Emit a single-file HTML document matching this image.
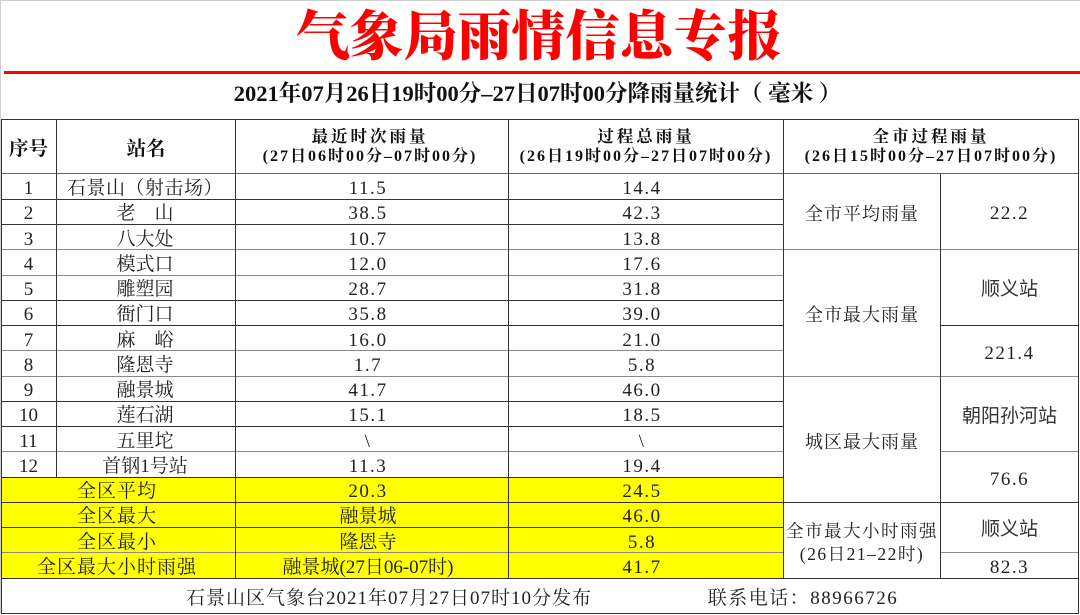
<!DOCTYPE html>
<html>
<head>
<meta charset="utf-8">
<style>
html,body{margin:0;padding:0;}
body{width:1080px;height:615px;position:relative;background:#fff;overflow:hidden;
font-family:"Liberation Serif","Noto Serif CJK SC",serif;color:#222;}
.c{position:absolute;display:flex;align-items:center;justify-content:center;white-space:nowrap;font-size:19px;line-height:1;transform:translateY(2px);}
.n{letter-spacing:1.5px;}
.h{position:absolute;height:1px;background:#333;}
.hg{position:absolute;height:1px;background:#8a8a8a;}
.v{position:absolute;width:1px;background:#333;}
.y{position:absolute;background:#ffff00;}
.hd{position:absolute;display:flex;flex-direction:column;align-items:center;justify-content:center;white-space:nowrap;font-weight:700;color:#111;}
.hd .a{font-size:16.5px;letter-spacing:3px;line-height:20px;}
.hd .b{font-size:16px;letter-spacing:2px;line-height:20px;}
.sans{font-family:"Liberation Sans","Noto Sans CJK SC",sans-serif;color:#333;}
</style>
</head>
<body>
<!-- light outer frame -->
<div style="position:absolute;left:0;top:0;width:1080px;height:1px;background:#d0d0d0"></div>
<div style="position:absolute;left:0;top:0;width:1px;height:615px;background:#d0d0d0"></div>

<!-- Title -->
<div style="position:absolute;left:0;top:6px;width:1077px;text-align:center;font-family:'Noto Serif CJK SC',serif;font-weight:900;font-size:54px;line-height:54px;color:#ff0000;white-space:nowrap;">气象局雨情信息专报</div>
<div style="position:absolute;left:4px;top:71px;width:1076px;height:3px;background:#ff0000"></div>

<!-- Subtitle -->
<div style="position:absolute;left:0;top:83px;width:1075px;text-align:center;font-weight:700;font-size:22.5px;line-height:22.5px;color:#111;white-space:nowrap;">2021年07月26日19时00分–27日07时00分降雨量统计（ 毫米 ）</div>

<!-- Yellow fills -->
<div class="y" style="left:1px;top:477px;width:782px;height:101px"></div>

<!-- Horizontal lines -->
<div class="h" style="left:1px;top:119px;width:1078px"></div>
<div class="hg" style="left:1px;top:173px;width:1078px;background:#666"></div>
<div class="h" style="left:1px;top:199px;width:782px"></div>
<div class="h" style="left:1px;top:224px;width:782px"></div>
<div class="hg" style="left:1px;top:249px;width:782px"></div>
<div class="hg" style="left:1px;top:275px;width:782px"></div>
<div class="h" style="left:1px;top:300px;width:782px"></div>
<div class="h" style="left:1px;top:325px;width:782px"></div>
<div class="hg" style="left:1px;top:350px;width:782px"></div>
<div class="hg" style="left:1px;top:376px;width:782px"></div>
<div class="h" style="left:1px;top:401px;width:782px"></div>
<div class="h" style="left:1px;top:426px;width:782px"></div>
<div class="hg" style="left:1px;top:451px;width:782px"></div>
<div class="h" style="left:1px;top:477px;width:782px"></div>
<div class="h" style="left:1px;top:502px;width:782px"></div>
<div class="h" style="left:1px;top:527px;width:782px"></div>
<div class="hg" style="left:1px;top:552px;width:782px"></div>
<div class="h" style="left:1px;top:578px;width:1078px"></div>
<div class="h" style="left:1px;top:613px;width:1078px"></div>
<!-- right section lines -->
<div class="hg" style="left:783px;top:249px;width:296px"></div>
<div class="hg" style="left:783px;top:376px;width:296px"></div>
<div class="h" style="left:783px;top:502px;width:296px"></div>
<div class="h" style="left:940px;top:325px;width:139px"></div>
<div class="hg" style="left:940px;top:451px;width:139px"></div>
<div class="hg" style="left:940px;top:552px;width:139px"></div>

<!-- Vertical lines -->
<div class="v" style="left:1px;top:119px;height:495px"></div>
<div class="v" style="left:56px;top:119px;height:358px"></div>
<div class="v" style="left:235px;top:119px;height:459px"></div>
<div class="v" style="left:508px;top:119px;height:459px"></div>
<div class="v" style="left:783px;top:119px;height:459px"></div>
<div class="v" style="left:940px;top:174px;height:404px"></div>
<div class="v" style="left:1078px;top:119px;height:495px"></div>

<!-- Header -->
<div class="hd" style="left:1px;top:120px;width:55px;height:54px;font-size:19.5px;">序号</div>
<div class="hd" style="left:57px;top:120px;width:178px;height:54px;font-size:19.5px;">站名</div>
<div class="hd" style="left:236px;top:120px;width:268px;height:54px;"><div class="a">最近时次雨量</div><div class="b">(27日06时00分–07时00分)</div></div>
<div class="hd" style="left:509px;top:120px;width:274px;height:54px;"><div class="a">过程总雨量</div><div class="b">(26日19时00分–27日07时00分)</div></div>
<div class="hd" style="left:784px;top:120px;width:294px;height:54px;"><div class="a">全市过程雨量</div><div class="b">(26日15时00分–27日07时00分)</div></div>

<!-- Row data: seq -->
<div class="c" style="left:1px;top:174px;width:55px;height:25px">1</div>
<div class="c" style="left:1px;top:199.25px;width:55px;height:25px">2</div>
<div class="c" style="left:1px;top:224.5px;width:55px;height:25px">3</div>
<div class="c" style="left:1px;top:249.75px;width:55px;height:25px">4</div>
<div class="c" style="left:1px;top:275px;width:55px;height:25px">5</div>
<div class="c" style="left:1px;top:300.25px;width:55px;height:25px">6</div>
<div class="c" style="left:1px;top:325.5px;width:55px;height:25px">7</div>
<div class="c" style="left:1px;top:350.75px;width:55px;height:25px">8</div>
<div class="c" style="left:1px;top:376px;width:55px;height:25px">9</div>
<div class="c" style="left:1px;top:401.25px;width:55px;height:25px">10</div>
<div class="c" style="left:1px;top:426.5px;width:55px;height:25px">11</div>
<div class="c" style="left:1px;top:451.75px;width:55px;height:25px">12</div>

<!-- station names -->
<div class="c" style="left:57px;top:174px;width:176px;height:25px;letter-spacing:0.5px">石景山（射击场）</div>
<div class="c" style="left:57px;top:199.25px;width:176px;height:25px">老　山</div>
<div class="c" style="left:57px;top:224.5px;width:176px;height:25px">八大处</div>
<div class="c" style="left:57px;top:249.75px;width:176px;height:25px">模式口</div>
<div class="c" style="left:57px;top:275px;width:176px;height:25px">雕塑园</div>
<div class="c" style="left:57px;top:300.25px;width:176px;height:25px">衙门口</div>
<div class="c" style="left:57px;top:325.5px;width:176px;height:25px">麻　峪</div>
<div class="c" style="left:57px;top:350.75px;width:176px;height:25px">隆恩寺</div>
<div class="c" style="left:57px;top:376px;width:176px;height:25px">融景城</div>
<div class="c" style="left:57px;top:401.25px;width:176px;height:25px">莲石湖</div>
<div class="c" style="left:57px;top:426.5px;width:176px;height:25px">五里坨</div>
<div class="c" style="left:57px;top:451.75px;width:176px;height:25px">首钢1号站</div>

<!-- recent -->
<div class="c n" style="left:236px;top:174px;width:264px;height:25px">11.5</div>
<div class="c n" style="left:236px;top:199.25px;width:264px;height:25px">38.5</div>
<div class="c n" style="left:236px;top:224.5px;width:264px;height:25px">10.7</div>
<div class="c n" style="left:236px;top:249.75px;width:264px;height:25px">12.0</div>
<div class="c n" style="left:236px;top:275px;width:264px;height:25px">28.7</div>
<div class="c n" style="left:236px;top:300.25px;width:264px;height:25px">35.8</div>
<div class="c n" style="left:236px;top:325.5px;width:264px;height:25px">16.0</div>
<div class="c n" style="left:236px;top:350.75px;width:264px;height:25px">1.7</div>
<div class="c n" style="left:236px;top:376px;width:264px;height:25px">41.7</div>
<div class="c n" style="left:236px;top:401.25px;width:264px;height:25px">15.1</div>
<div class="c n" style="left:236px;top:426.5px;width:264px;height:25px">\</div>
<div class="c n" style="left:236px;top:451.75px;width:264px;height:25px">11.3</div>

<!-- total -->
<div class="c n" style="left:509px;top:174px;width:266px;height:25px">14.4</div>
<div class="c n" style="left:509px;top:199.25px;width:266px;height:25px">42.3</div>
<div class="c n" style="left:509px;top:224.5px;width:266px;height:25px">13.8</div>
<div class="c n" style="left:509px;top:249.75px;width:266px;height:25px">17.6</div>
<div class="c n" style="left:509px;top:275px;width:266px;height:25px">31.8</div>
<div class="c n" style="left:509px;top:300.25px;width:266px;height:25px">39.0</div>
<div class="c n" style="left:509px;top:325.5px;width:266px;height:25px">21.0</div>
<div class="c n" style="left:509px;top:350.75px;width:266px;height:25px">5.8</div>
<div class="c n" style="left:509px;top:376px;width:266px;height:25px">46.0</div>
<div class="c n" style="left:509px;top:401.25px;width:266px;height:25px">18.5</div>
<div class="c n" style="left:509px;top:426.5px;width:266px;height:25px">\</div>
<div class="c n" style="left:509px;top:451.75px;width:266px;height:25px">19.4</div>

<!-- yellow rows -->
<div class="c" style="left:1px;top:477px;width:232px;height:25px;letter-spacing:1px">全区平均</div>
<div class="c" style="left:1px;top:502.25px;width:232px;height:25px;letter-spacing:1px">全区最大</div>
<div class="c" style="left:1px;top:527.5px;width:232px;height:25px;letter-spacing:1px">全区最小</div>
<div class="c" style="left:1px;top:552.75px;width:232px;height:25px;letter-spacing:1px">全区最大小时雨强</div>
<div class="c n" style="left:236px;top:477px;width:264px;height:25px">20.3</div>
<div class="c" style="left:236px;top:502.25px;width:264px;height:25px">融景城</div>
<div class="c" style="left:236px;top:527.5px;width:264px;height:25px">隆恩寺</div>
<div class="c" style="left:236px;top:552.75px;width:264px;height:25px">融景城(27日06-07时)</div>
<div class="c n" style="left:509px;top:477px;width:266px;height:25px">24.5</div>
<div class="c n" style="left:509px;top:502.25px;width:266px;height:25px">46.0</div>
<div class="c n" style="left:509px;top:527.5px;width:266px;height:25px">5.8</div>
<div class="c n" style="left:509px;top:552.75px;width:266px;height:25px">41.7</div>

<!-- right section -->
<div class="c" style="left:784px;top:174px;width:156px;height:75px;font-size:18px;letter-spacing:1px">全市平均雨量</div>
<div class="c" style="left:784px;top:250px;width:156px;height:126px;font-size:18px;letter-spacing:1px">全市最大雨量</div>
<div class="c" style="left:784px;top:377px;width:156px;height:125px;font-size:18px;letter-spacing:1px">城区最大雨量</div>
<div class="c" style="left:784px;top:503px;width:156px;height:75px;flex-direction:column;font-size:17.5px;line-height:23px;letter-spacing:1.5px"><div>全市最大小时雨强</div><div>(26日21–22时)</div></div>

<div class="c n" style="left:941px;top:174px;width:137px;height:75px">22.2</div>
<div class="c sans" style="left:941px;top:250px;width:137px;height:75px">顺义站</div>
<div class="c n" style="left:941px;top:326px;width:137px;height:50px">221.4</div>
<div class="c sans" style="left:941px;top:377px;width:137px;height:74px">朝阳孙河站</div>
<div class="c n" style="left:941px;top:452px;width:137px;height:50px">76.6</div>
<div class="c sans" style="left:941px;top:503px;width:137px;height:49px">顺义站</div>
<div class="c n" style="left:941px;top:553px;width:137px;height:25px">82.3</div>

<!-- footer -->
<div class="c" style="left:150px;top:579px;width:478px;height:34px;letter-spacing:1px">石景山区气象台2021年07月27日07时10分发布</div>
<div class="c" style="left:693px;top:579px;width:220px;height:34px;letter-spacing:1.5px">联系电话：88966726</div>
</body>
</html>
